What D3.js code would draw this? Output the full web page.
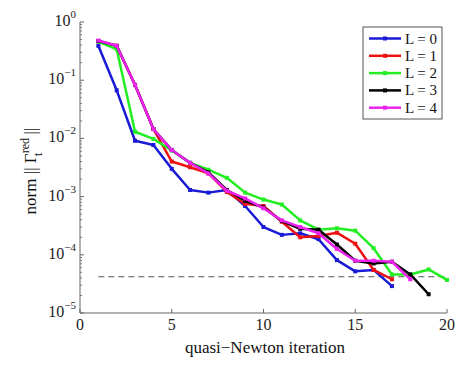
<!DOCTYPE html>
<html lang="en">
<head>
<meta charset="UTF-8" />
<title>quasi-Newton convergence</title>
<script src="https://d3js.org/d3.v7.min.js"></script>
<style>
    body { margin: 0; background: #fff; }
    svg { display: block; font-family: "Liberation Serif", "Times New Roman", serif; }
</style>
</head>
<body>
<script>
    var w = 474;
    var h = 365;

    // Data (iterations start at 1)
    var seriesNames = ["L = 0", "L = 1", "L = 2", "L = 3", "L = 4"];
    var seriesColors = ["#1a1ad6", "#ee1111", "#22ee22", "#000000", "#ee22ee"];
    var L0 = [0.39, 0.067, 0.0091, 0.0077, 0.003, 0.0013, 0.00117, 0.0013, 0.00069, 0.0003, 0.00022, 0.000234, 0.000185, 8.1e-5, 5.2e-5, 5.5e-5, 2.9e-5];
    var L1 = [0.47, 0.39, 0.083, 0.0145, 0.004, 0.0032, 0.0025, 0.0012, 0.00075, 0.00069, 0.00037, 0.0002, 0.00021, 0.00024, 0.000155, 5.5e-5, 3.8e-5];
    var L2 = [0.46, 0.34, 0.013, 0.0098, 0.0062, 0.0038, 0.0029, 0.0021, 0.00117, 0.00089, 0.00073, 0.00039, 0.00027, 0.000285, 0.00026, 0.00013, 4.6e-5, 4.6e-5, 5.6e-5, 3.7e-5];
    var L3 = [0.47, 0.39, 0.083, 0.0145, 0.0063, 0.0038, 0.0026, 0.0013, 0.00085, 0.00065, 0.00038, 0.00028, 0.00027, 0.00015, 7.9e-5, 7.1e-5, 7.6e-5, 4.6e-5, 2.1e-5];
    var L4 = [0.48, 0.39, 0.083, 0.0145, 0.0063, 0.0038, 0.0025, 0.00126, 0.00093, 0.00063, 0.00039, 0.0003, 0.000235, 0.000126, 7.9e-5, 7.9e-5, 7.6e-5, 3.8e-5];
    var allSeries = [L0, L1, L2, L3, L4];
    var threshold = 4.2e-5;
    var thresholdRange = [1, 20];
    var xTicks = [0, 5, 10, 15, 20];
    var yExponents = [0, -1, -2, -3, -4, -5];

    var svg = d3.select("body")
        .append("svg")
        .attr("width", w)
        .attr("height", h);

    // Scales
    var xScale = d3.scaleLinear().domain([0, 20]).range([80, 447]);
    var yScale = d3.scaleLog().domain([1e-5, 1]).range([313, 22]);

    // Axes lines
    svg.append("line")
        .attr("x1", 80).attr("x2", 80)
        .attr("y1", yScale(1)).attr("y2", yScale(1e-5))
        .attr("stroke", "#666").attr("stroke-width", 1);
    svg.append("line")
        .attr("x1", 80).attr("x2", xScale(20))
        .attr("y1", yScale(1e-5)).attr("y2", yScale(1e-5))
        .attr("stroke", "#666").attr("stroke-width", 1);

    // x ticks (inward)
    svg.selectAll(".xtick")
        .data(xTicks)
        .enter()
        .append("line")
        .attr("x1", function(d) { return xScale(d); })
        .attr("x2", function(d) { return xScale(d); })
        .attr("y1", 313)
        .attr("y2", 309)
        .attr("stroke", "#666");

    svg.selectAll(".xlabel")
        .data(xTicks)
        .enter()
        .append("text")
        .attr("x", function(d) { return xScale(d); })
        .attr("y", 330)
        .attr("text-anchor", "middle")
        .attr("font-size", 16)
        .attr("fill", "#222")
        .text(function(d) { return d; });

    // y ticks: major + minor
    var minor = [];
    for (var e = -5; e < 0; e++) {
        for (var m = 2; m < 10; m++) minor.push(m * Math.pow(10, e));
    }
    svg.selectAll(".yminor")
        .data(minor)
        .enter()
        .append("line")
        .attr("x1", 80).attr("x2", 82)
        .attr("y1", function(d) { return yScale(d); })
        .attr("y2", function(d) { return yScale(d); })
        .attr("stroke", "#777");
    svg.selectAll(".ymajor")
        .data(yExponents)
        .enter()
        .append("line")
        .attr("x1", 80).attr("x2", 84)
        .attr("y1", function(d) { return yScale(Math.pow(10, d)); })
        .attr("y2", function(d) { return yScale(Math.pow(10, d)); })
        .attr("stroke", "#666");

    var ylabels = svg.selectAll(".ylabel")
        .data(yExponents)
        .enter()
        .append("text")
        .attr("x", 76)
        .attr("y", function(d) { return yScale(Math.pow(10, d)) + 4; })
        .attr("text-anchor", "end")
        .attr("font-size", 16)
        .attr("fill", "#222");
    ylabels.append("tspan").text("10");
    ylabels.append("tspan")
        .attr("dy", -8)
        .attr("font-size", 11)
        .text(function(d) { return d === 0 ? "0" : "\u2212" + Math.abs(d); });

    // Axis titles
    svg.append("text")
        .attr("x", 265)
        .attr("y", 353)
        .attr("text-anchor", "middle")
        .attr("font-size", 17)
        .attr("fill", "#111")
        .text("quasi\u2212Newton iteration");

    var ytitle = svg.append("text")
        .attr("transform", "translate(36,171) rotate(-90)")
        .attr("text-anchor", "middle")
        .attr("font-size", 17)
        .attr("fill", "#111");
    ytitle.append("tspan").text("norm || \u0393");
    ytitle.append("tspan").attr("dy", -7).attr("font-size", 12).text("red");
    ytitle.append("tspan").attr("dx", -18).attr("dy", 13).attr("font-size", 12).text("t");
    ytitle.append("tspan").attr("dx", 14).attr("dy", -6).text(" ||");

    // Threshold dashed line
    svg.append("line")
        .attr("x1", xScale(thresholdRange[0]))
        .attr("x2", xScale(thresholdRange[1]))
        .attr("y1", yScale(threshold))
        .attr("y2", yScale(threshold))
        .attr("stroke", "#555")
        .attr("stroke-width", 1.2)
        .attr("stroke-dasharray", "6,4");

    // Lines
    var line = d3.line()
        .x(function(d, i) { return xScale(i + 1); })
        .y(function(d) { return yScale(d); });

    allSeries.forEach(function(data, k) {
        svg.append("path")
            .datum(data)
            .attr("d", line)
            .attr("fill", "none")
            .attr("stroke", seriesColors[k])
            .attr("stroke-width", 2.5)
            .attr("stroke-linejoin", "round");
        svg.selectAll(".dot" + k)
            .data(data)
            .enter()
            .append("rect")
            .attr("x", function(d, i) { return xScale(i + 1) - 2; })
            .attr("y", function(d) { return yScale(d) - 2; })
            .attr("width", 4)
            .attr("height", 4)
            .attr("fill", seriesColors[k]);
    });

    // Legend
    var legend = svg.append("g").attr("transform", "translate(363,27)");
    legend.append("rect")
        .attr("x", 0).attr("y", 0)
        .attr("width", 79).attr("height", 92)
        .attr("fill", "#fff")
        .attr("stroke", "#555")
        .attr("stroke-width", 1);
    seriesNames.forEach(function(name, k) {
        var yy = 11.5 + k * 17.3;
        legend.append("line")
            .attr("x1", 6).attr("x2", 38)
            .attr("y1", yy).attr("y2", yy)
            .attr("stroke", seriesColors[k])
            .attr("stroke-width", 2.5);
        legend.append("rect")
            .attr("x", 20).attr("y", yy - 2)
            .attr("width", 4).attr("height", 4)
            .attr("fill", seriesColors[k]);
        legend.append("text")
            .attr("x", 42)
            .attr("y", yy + 5)
            .attr("font-size", 15)
            .attr("fill", "#111")
            .text(name);
    });
</script>
</body>
</html>
